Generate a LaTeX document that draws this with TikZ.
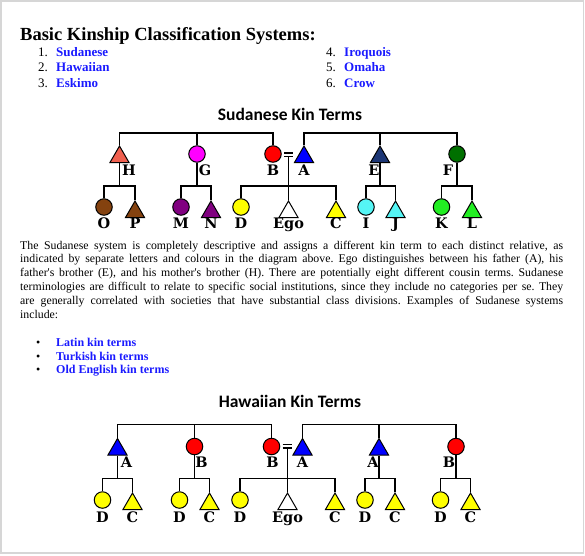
\documentclass[tikz,border=0pt]{standalone}
\usepackage{fontspec}
\setmainfont{Liberation Serif}
\newfontfamily\kinfont{DejaVu Serif}
\newfontfamily\titlefont{Carlito}
\usetikzlibrary{shapes.geometric}
\definecolor{LinkBlue}{HTML}{1A1AFF}
\definecolor{KinSalmon}{HTML}{F0604F}
\definecolor{KinMagenta}{HTML}{FF00FF}
\definecolor{KinRed}{HTML}{FF0000}
\definecolor{KinBlue}{HTML}{0000FF}
\definecolor{KinNavy}{HTML}{1C3675}
\definecolor{KinDkGreen}{HTML}{007000}
\definecolor{KinBrown}{HTML}{84420F}
\definecolor{KinPurple}{HTML}{800080}
\definecolor{KinYellow}{HTML}{FFFF00}
\definecolor{KinCyan}{HTML}{55F5F5}
\definecolor{KinLime}{HTML}{22EE22}
\frenchspacing

\begin{document}
\begin{tikzpicture}[x=1pt,y=-1pt,
  fem/.style={circle,draw,line width=1pt,minimum size=16.5pt,inner sep=0pt},
  male/.style={regular polygon,regular polygon sides=3,draw,line width=1pt,minimum size=22pt,inner sep=0pt},
  tie/.style={line width=1.8pt},
  kin/.style={font=\kinfont\bfseries\fontsize{14.5}{14.5}\selectfont,inner sep=0pt,anchor=base},
  kintitle/.style={font=\titlefont\bfseries\fontsize{17.5}{17.5}\selectfont,inner sep=0pt,anchor=base},
  listitem/.style={font=\fontsize{13}{13}\selectfont,inner sep=0pt,anchor=base west},
  bulletitem/.style={font=\bfseries\fontsize{12}{12}\selectfont,inner sep=0pt,anchor=base west},
  para/.style={font=\fontsize{11.8}{13.9}\selectfont,inner sep=0pt,anchor=base west,text width=543pt,align=justify}
]
\useasboundingbox (0,0) rectangle (585,555);
\draw[black!16,line width=1.5pt] (1,1) rectangle (583.5,553);

% heading and list
\node[font=\bfseries\fontsize{18.5}{18.5}\selectfont,inner sep=0pt,anchor=base west] (head) at (20,40) {Basic Kinship Classification Systems:};
\node[listitem] (sys1) at (38,56) {\makebox[18pt][l]{1.}\textcolor{LinkBlue}{\bfseries Sudanese}};
\node[listitem] (sys2) at (38,71.5) {\makebox[18pt][l]{2.}\textcolor{LinkBlue}{\bfseries Hawaiian}};
\node[listitem] (sys3) at (38,87) {\makebox[18pt][l]{3.}\textcolor{LinkBlue}{\bfseries Eskimo}};
\node[listitem] (sys4) at (326,56) {\makebox[18pt][l]{4.}\textcolor{LinkBlue}{\bfseries Iroquois}};
\node[listitem] (sys5) at (326,71.5) {\makebox[18pt][l]{5.}\textcolor{LinkBlue}{\bfseries Omaha}};
\node[listitem] (sys6) at (326,87) {\makebox[18pt][l]{6.}\textcolor{LinkBlue}{\bfseries Crow}};

% Sudanese kin terms
\node[kintitle] (sudtitle) at (290,120.5) {Sudanese Kin Terms};
\node[male,fill=KinSalmon] (sH) at (119.5,157) {};
\node[fem,fill=KinMagenta] (sG) at (197,154) {};
\node[fem,fill=KinRed] (sB) at (273,154) {};
\node[male,fill=KinBlue] (sA) at (304,157) {};
\node[male,fill=KinNavy] (sE) at (380,157) {};
\node[fem,fill=KinDkGreen] (sF) at (457,154) {};
\node[fem,fill=KinBrown] (sO) at (104,207) {};
\node[male,fill=KinBrown] (sP) at (135,212) {};
\node[fem,fill=KinPurple] (sM) at (181,207) {};
\node[male,fill=KinPurple] (sN) at (211,212) {};
\node[fem,fill=KinYellow] (sD) at (241,207) {};
\node[male,fill=white] (sEgo) at (288.5,212) {};
\node[male,fill=KinYellow] (sC) at (336,212) {};
\node[fem,fill=KinCyan] (sI) at (366,207) {};
\node[male,fill=KinCyan] (sJ) at (395.5,212) {};
\node[fem,fill=KinLime] (sK) at (441.5,207) {};
\node[male,fill=KinLime] (sL) at (472,212) {};

\coordinate (sudL) at (197,133);
\coordinate (sudR) at (380,133);
\coordinate (sudHk) at (119.5,186);
\coordinate (sudGk) at (197,186);
\coordinate (sudEk) at (380,186);
\coordinate (sudFk) at (457,186);
\coordinate (sudEgok) at (288.5,186);
\coordinate (sudEq1) at (284,153);
\coordinate (sudEq2) at (293,153);
\coordinate (sudEq3) at (284,156.5);
\coordinate (sudEq4) at (293,156.5);
\coordinate (sudEqm) at (288.5,156.5);

\draw[tie] (sH.north) |- (sudL) -| (sB.north);
\draw[tie] (sudL) -- (sG.north);
\draw[tie] (sA.north) |- (sudR) -| (sF.north);
\draw[tie] (sudR) -- (sE.north);
\draw[tie] (sudEq1) -- (sudEq2);
\draw[tie] (sudEq3) -- (sudEq4);
\draw[tie] (sudEqm) -- (sEgo.north);
\draw[tie] (sH.south) -- (sudHk);
\draw[tie] (sO.north) |- (sudHk) -| (sP.north);
\draw[tie] (sG.south) -- (sudGk);
\draw[tie] (sM.north) |- (sudGk) -| (sN.north);
\draw[tie] (sD.north) |- (sudEgok) -| (sC.north);
\draw[tie] (sE.south) -- (sudEk);
\draw[tie] (sI.north) |- (sudEk) -| (sJ.north);
\draw[tie] (sF.south) -- (sudFk);
\draw[tie] (sK.north) |- (sudFk) -| (sL.north);

\node[kin] (sHl) at (129,175) {H};
\node[kin] (sGl) at (205,175) {G};
\node[kin] (sBl) at (273,175) {B};
\node[kin] (sAl) at (304,175) {A};
\node[kin] (sEl) at (374,175) {E};
\node[kin] (sFl) at (448,175) {F};
\node[kin] (sOl) at (104,228.5) {O};
\node[kin] (sPl) at (135,228.5) {P};
\node[kin] (sMl) at (181,228.5) {M};
\node[kin] (sNl) at (211,228.5) {N};
\node[kin] (sDl) at (241,228.5) {D};
\node[kin] (sEgol) at (288.5,228.5) {Ego};
\node[kin] (sCl) at (336,228.5) {C};
\node[kin] (sIl) at (366,228.5) {I};
\node[kin] (sJl) at (395.5,228.5) {J};
\node[kin] (sKl) at (441.5,228.5) {K};
\node[kin] (sLl) at (472,228.5) {L};

% text and examples
\node[para] (txt) at (20,249) {The Sudanese system is completely descriptive and assigns a different kin term to each distinct relative, as\linebreak
indicated by separate letters and colours in the diagram above. Ego distinguishes between his father (A), his\linebreak
father\textquotesingle s brother (E), and his mother\textquotesingle s brother (H). There are potentially eight different cousin terms. Sudanese\linebreak
terminologies are difficult to relate to specific social institutions, since they include no categories per se. They\linebreak
are generally correlated with societies that have substantial class divisions. Examples of Sudanese systems\linebreak
include:};
\node[bulletitem] (ex1) at (36,346.7) {\makebox[20pt][l]{\mdseries\textbullet}\textcolor{LinkBlue}{Latin kin terms}};
\node[bulletitem] (ex2) at (36,360) {\makebox[20pt][l]{\mdseries\textbullet}\textcolor{LinkBlue}{Turkish kin terms}};
\node[bulletitem] (ex3) at (36,373.3) {\makebox[20pt][l]{\mdseries\textbullet}\textcolor{LinkBlue}{Old English kin terms}};

% Hawaiian kin terms
\node[kintitle] (hawtitle) at (290,407.3) {Hawaiian Kin Terms};
\node[male,fill=KinBlue] (hA1) at (117.5,449.5) {};
\node[fem,fill=KinRed] (hB1) at (194.5,446.5) {};
\node[fem,fill=KinRed] (hB2) at (271.5,446.5) {};
\node[male,fill=KinBlue] (hA2) at (302.5,449.5) {};
\node[male,fill=KinBlue] (hA3) at (379,449.5) {};
\node[fem,fill=KinRed] (hB3) at (456,446.5) {};
\node[fem,fill=KinYellow] (hD1) at (102.5,500) {};
\node[male,fill=KinYellow] (hC1) at (132.5,504) {};
\node[fem,fill=KinYellow] (hD2) at (179.5,500) {};
\node[male,fill=KinYellow] (hC2) at (209.5,504) {};
\node[fem,fill=KinYellow] (hD3) at (240,500) {};
\node[male,fill=white] (hEgo) at (287.5,504) {};
\node[male,fill=KinYellow] (hC3) at (335,504) {};
\node[fem,fill=KinYellow] (hD4) at (365,500) {};
\node[male,fill=KinYellow] (hC4) at (395,504) {};
\node[fem,fill=KinYellow] (hD5) at (440.5,500) {};
\node[male,fill=KinYellow] (hC5) at (470.5,504) {};

\coordinate (hawL) at (194.5,424.5);
\coordinate (hawR) at (379,424.5);
\coordinate (hawA1k) at (117.5,478.5);
\coordinate (hawB1k) at (194.5,478.5);
\coordinate (hawA3k) at (379,478.5);
\coordinate (hawB3k) at (456,478.5);
\coordinate (hawEgok) at (287.5,478.5);
\coordinate (hawEq1) at (282.5,444.5);
\coordinate (hawEq2) at (291.5,444.5);
\coordinate (hawEq3) at (282.5,448);
\coordinate (hawEq4) at (291.5,448);
\coordinate (hawEqm) at (287.5,448);

\draw[tie] (hA1.north) |- (hawL) -| (hB2.north);
\draw[tie] (hawL) -- (hB1.north);
\draw[tie] (hA2.north) |- (hawR) -| (hB3.north);
\draw[tie] (hawR) -- (hA3.north);
\draw[tie] (hawEq1) -- (hawEq2);
\draw[tie] (hawEq3) -- (hawEq4);
\draw[tie] (hawEqm) -- (hEgo.north);
\draw[tie] (hA1.south) -- (hawA1k);
\draw[tie] (hD1.north) |- (hawA1k) -| (hC1.north);
\draw[tie] (hB1.south) -- (hawB1k);
\draw[tie] (hD2.north) |- (hawB1k) -| (hC2.north);
\draw[tie] (hD3.north) |- (hawEgok) -| (hC3.north);
\draw[tie] (hA3.south) -- (hawA3k);
\draw[tie] (hD4.north) |- (hawA3k) -| (hC4.north);
\draw[tie] (hB3.south) -- (hawB3k);
\draw[tie] (hD5.north) |- (hawB3k) -| (hC5.north);

\node[kin] (hA1l) at (126.5,467) {A};
\node[kin] (hB1l) at (201.5,467) {B};
\node[kin] (hB2l) at (272.5,467) {B};
\node[kin] (hA2l) at (302.5,467) {A};
\node[kin] (hA3l) at (373,467) {A};
\node[kin] (hB3l) at (449,467) {B};
\node[kin] (hD1l) at (102.5,522) {D};
\node[kin] (hC1l) at (132.5,522) {C};
\node[kin] (hD2l) at (179.5,522) {D};
\node[kin] (hC2l) at (209.5,522) {C};
\node[kin] (hD3l) at (240,522) {D};
\node[kin] (hEgol) at (287.5,522) {Ego};
\node[kin] (hC3l) at (335,522) {C};
\node[kin] (hD4l) at (365,522) {D};
\node[kin] (hC4l) at (395,522) {C};
\node[kin] (hD5l) at (440.5,522) {D};
\node[kin] (hC5l) at (470.5,522) {C};
\end{tikzpicture}
\end{document}
